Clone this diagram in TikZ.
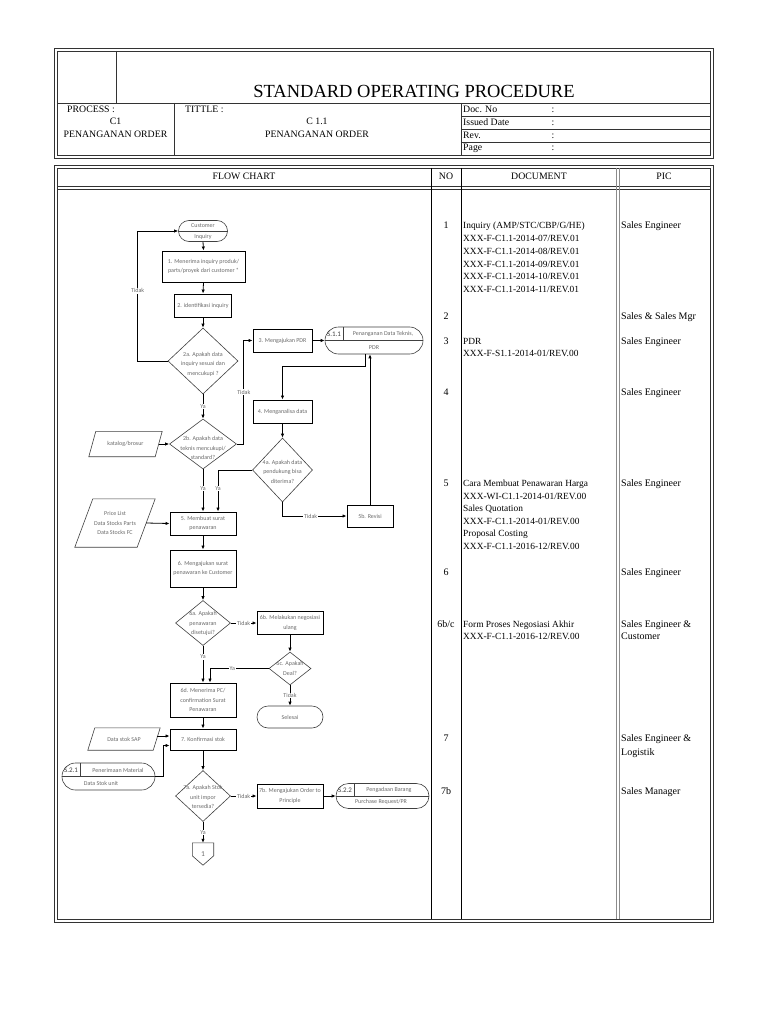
\documentclass[tikz,border=0pt]{standalone}
\usepackage{fontspec}
\setmainfont{Liberation Serif}
\newfontfamily\flowfont{Carlito}
\usetikzlibrary{shapes.geometric,arrows.meta,calc}
\definecolor{ftext}{gray}{0.42}
\definecolor{fline}{gray}{0.25}
\begin{document}
\begin{tikzpicture}[x=1pt,y=-1pt,
  frm/.style={draw=black!80,line width=0.8pt},
  hdtxt/.style={font=\fontsize{9.8}{11}\selectfont,inner sep=0pt},
  doctxt/.style={font=\fontsize{9.4}{11}\selectfont,inner sep=0pt,anchor=base west},
  pictxt/.style={font=\fontsize{10}{11}\selectfont,inner sep=0pt,anchor=base west},
  notxt/.style={font=\fontsize{10}{11}\selectfont,inner sep=0pt,anchor=base},
  proc/.style={draw,line width=0.9pt,font=\flowfont\fontsize{6}{9.5}\selectfont,text=ftext,align=center,inner sep=0pt},
  dec/.style={diamond,draw=fline,line width=0.6pt,inner sep=0pt},
  dtext/.style={font=\flowfont\fontsize{6}{9.5}\selectfont,text=ftext,align=center,inner sep=0pt},
  term/.style={draw=fline,line width=0.6pt,inner sep=0pt},
  ftxt/.style={font=\flowfont\fontsize{6}{7}\selectfont,text=ftext,inner sep=0pt},
  stxt/.style={font=\flowfont\fontsize{7}{8}\selectfont,text=black!75,inner sep=0pt},
  lab/.style={fill=white,font=\flowfont\fontsize{6}{7}\selectfont,text=ftext,inner sep=0.8pt},
  arr/.style={line width=0.8pt,-{Latex[length=4pt,width=3.4pt]}},
  para/.style={draw=fline,line width=0.6pt},
]
\useasboundingbox (0,0) rectangle (768,1024);
\fill[white] (0,0) rectangle (768,1024);

% ---------- header ----------
\draw[frm] (54,48) rectangle (713,158);
\draw[frm] (57,51) rectangle (710,155);
\draw[frm] (116,51) -- (116,103);
\draw[frm] (57,103) -- (710,103);
\draw[frm] (174,103) -- (174,155);
\draw[frm] (461,103) -- (461,155);
\foreach \yy in {116,129,142} \draw[frm] (461,\yy) -- (710,\yy);
\node[font=\fontsize{18.5}{20}\selectfont,inner sep=0pt,anchor=base] (title) at (414,98) {STANDARD OPERATING PROCEDURE};
\node[hdtxt,anchor=base west] (proc) at (67,113) {PROCESS :};
\node[hdtxt,anchor=base] (c1) at (115.5,124.5) {C1};
\node[hdtxt,anchor=base] (po1) at (115.5,137.5) {PENANGANAN ORDER};
\node[hdtxt,anchor=base west] (tit) at (185,113) {TITTLE :};
\node[hdtxt,anchor=base] (c11) at (317,124.5) {C 1.1};
\node[hdtxt,anchor=base] (po2) at (317,137.5) {PENANGANAN ORDER};
\node[hdtxt,anchor=base west] (dn) at (463,113) {Doc. No};
\node[hdtxt,anchor=base west] (idt) at (463,126) {Issued Date};
\node[hdtxt,anchor=base west] (rv) at (463,138.5) {Rev.};
\node[hdtxt,anchor=base west] (pg) at (463,151) {Page};
\node[hdtxt,anchor=base] (k1) at (553,113) {:};
\node[hdtxt,anchor=base] (k2) at (553,126) {:};
\node[hdtxt,anchor=base] (k3) at (553,138.5) {:};
\node[hdtxt,anchor=base] (k4) at (553,151) {:};

% ---------- body table ----------
\draw[frm] (54,165) rectangle (713,922);
\draw[frm] (57,168) rectangle (710,919);
\draw[frm] (57,186) -- (710,186);
\draw[frm] (57,189.5) -- (710,189.5);
\draw[frm,draw=black] (431,168) -- (431,919);
\draw[frm,draw=black] (461,168) -- (461,919);
\draw[frm,draw=black!45] (616.5,168) -- (616.5,919);
\draw[frm,draw=black!45] (619,168) -- (619,919);
\node[hdtxt,anchor=base] (hfc) at (244,179.5) {FLOW CHART};
\node[hdtxt,anchor=base] (hno) at (446,179.5) {NO};
\node[hdtxt,anchor=base] (hdoc) at (539,179.5) {DOCUMENT};
\node[hdtxt,anchor=base] (hpic) at (664,179.5) {PIC};

% NO column
\node[notxt] (n1) at (446,229) {1};
\node[notxt] (n2) at (446,319.5) {2};
\node[notxt] (n3) at (446,344) {3};
\node[notxt] (n4) at (446,395) {4};
\node[notxt] (n5) at (446,486.5) {5};
\node[notxt] (n6) at (446,575) {6};
\node[notxt] (n6b) at (446,627) {6b/c};
\node[notxt] (n7) at (446,741.5) {7};
\node[notxt] (n7b) at (446,794) {7b};

% DOCUMENT column
\node[doctxt] (d1a) at (463,229) {Inquiry (AMP/STC/CBP/G/HE)};
\node[doctxt] (d1b) at (463,241.7) {XXX-F-C1.1-2014-07/REV.01};
\node[doctxt] (d1c) at (463,254.4) {XXX-F-C1.1-2014-08/REV.01};
\node[doctxt] (d1d) at (463,267.1) {XXX-F-C1.1-2014-09/REV.01};
\node[doctxt] (d1e) at (463,279.8) {XXX-F-C1.1-2014-10/REV.01};
\node[doctxt] (d1f) at (463,292.5) {XXX-F-C1.1-2014-11/REV.01};
\node[doctxt] (d3a) at (463,344) {PDR};
\node[doctxt] (d3b) at (463,356.7) {XXX-F-S1.1-2014-01/REV.00};
\node[doctxt] (d5a) at (463,486.5) {Cara Membuat Penawaran Harga};
\node[doctxt] (d5b) at (463,499) {XXX-WI-C1.1-2014-01/REV.00};
\node[doctxt] (d5c) at (463,511.5) {Sales Quotation};
\node[doctxt] (d5d) at (463,524) {XXX-F-C1.1-2014-01/REV.00};
\node[doctxt] (d5e) at (463,536.5) {Proposal Costing};
\node[doctxt] (d5f) at (463,549) {XXX-F-C1.1-2016-12/REV.00};
\node[doctxt] (d6a) at (463,627) {Form Proses Negosiasi Akhir};
\node[doctxt] (d6b) at (463,639.5) {XXX-F-C1.1-2016-12/REV.00};

% PIC column
\node[pictxt] (p1) at (621,229) {Sales Engineer};
\node[pictxt] (p2) at (621,319.5) {Sales \& Sales Mgr};
\node[pictxt] (p3) at (621,344) {Sales Engineer};
\node[pictxt] (p4) at (621,395) {Sales Engineer};
\node[pictxt] (p5) at (621,486.5) {Sales Engineer};
\node[pictxt] (p6) at (621,575) {Sales Engineer};
\node[pictxt] (p6a) at (621,627) {Sales Engineer \&};
\node[pictxt] (p6b) at (621,639.5) {Customer};
\node[pictxt] (p7a) at (621,741.5) {Sales Engineer \&};
\node[pictxt] (p7b) at (621,755) {Logistik};
\node[pictxt] (p7c) at (621,794) {Sales Manager};

% ---------- flow chart ----------
\node[term,rounded corners=10.5pt,minimum width=49pt,minimum height=21pt] (ci) at (203,231) {};
\draw[fline,line width=0.6pt] (ci.west) -- (ci.east);
\node[ftxt] (cit1) at (203,226) {Customer};
\node[ftxt] (cit2) at (203,236.5) {Inquiry};

\node[proc,minimum width=83pt,minimum height=31pt] (b1) at (203.5,266.5) {1. Menerima inquiry produk/\\parts/proyek dari customer *};
\node[proc,minimum width=57pt,minimum height=23pt] (b2) at (203,305.5) {2. identifikasi inquiry};
\node[dec,minimum width=70pt,minimum height=66pt] (d2a) at (203,361) {};
\node[dtext] (t2a) at (203,364) {2a. Apakah data\\inquiry sesuai dan\\mencukupi ?};
\node[dec,minimum width=67pt,minimum height=50pt] (d2b) at (203,444) {};
\node[dtext] (t2b) at (203,448) {2b. Apakah data\\teknis mencukupi/\\standard?};

\node[inner sep=0pt,minimum width=66pt,minimum height=25pt,font=\flowfont\fontsize{6}{7}\selectfont,text=ftext] (kat) at (125.5,444) {katalog/brosur};
\draw[para] ([xshift=3.5pt]kat.north west) -- ([xshift=3.5pt]kat.north east) -- ([xshift=-3.5pt]kat.south east) -- ([xshift=-3.5pt]kat.south west) -- cycle;

\node[proc,minimum width=59pt,minimum height=23pt] (b3) at (282.5,340.5) {3. Mengajukan PDR};
\node[term,rounded corners=13.5pt,minimum width=98pt,minimum height=27pt] (s11) at (374,340.5) {};
\draw[fline,line width=0.6pt] (s11.west) -- (s11.east);
\draw[fline,line width=0.6pt] (343,327) -- (343,340.5);
\node[stxt] (s11a) at (334,334) {S.1.1};
\node[ftxt] (s11b) at (383,334) {Penanganan Data Teknis,};
\node[ftxt] (s11c) at (374,347.5) {PDR};

\node[proc,minimum width=59pt,minimum height=23pt] (b4) at (282.5,411.5) {4. Menganalisa data};
\node[dec,minimum width=60pt,minimum height=64pt] (d4a) at (282.5,470) {};
\node[dtext] (t4a) at (282.5,471.5) {4a. Apakah data\\pendukung bisa\\diterima?};
\node[proc,minimum width=46pt,minimum height=22pt] (b5b) at (370,516) {5b. Revisi};

\node[proc,minimum width=66pt,minimum height=23pt] (b5) at (203,523.5) {5. Membuat surat\\penawaran};
\node[inner sep=0pt,minimum width=62pt,minimum height=48pt,align=center,font=\flowfont\fontsize{6}{9.5}\selectfont,text=ftext] (pl) at (115,523) {Price List\\Data Stocks Parts\\Data Stocks FC};
\draw[para] ([xshift=9pt]pl.north west) -- ([xshift=9pt]pl.north east) -- ([xshift=-9pt]pl.south east) -- ([xshift=-9pt]pl.south west) -- cycle;

\node[proc,minimum width=66pt,minimum height=37pt] (b6) at (203,568.5) {6. Mengajukan surat\\penawaran ke Customer};
\node[dec,minimum width=55pt,minimum height=45pt] (d6a) at (203,623) {};
\node[dtext] (t6a) at (203,623.5) {6a. Apakah\\penawaran\\disetujui?};
\node[proc,minimum width=66pt,minimum height=23pt] (b6b) at (290,623) {6b. Melakukan negosiasi\\ulang};
\node[dec,minimum width=42pt,minimum height=33pt] (d6c) at (290,668.5) {};
\node[dtext] (t6c) at (290,668.5) {6c. Apakah\\Deal?};
\node[term,rounded corners=11pt,minimum width=66pt,minimum height=22pt,font=\flowfont\fontsize{6}{7}\selectfont,text=ftext] (sel) at (290,717) {Selesai};
\node[proc,minimum width=66pt,minimum height=34pt] (b6d) at (203,700) {6d. Menerima PC/\\confirmation Surat\\Penawaran};

\node[proc,minimum width=66pt,minimum height=21pt] (b7) at (203,739.5) {7. Konfirmasi stok};
\node[inner sep=0pt,minimum width=65pt,minimum height=22pt,font=\flowfont\fontsize{6}{7}\selectfont,text=ftext] (sap) at (124,739) {Data stok SAP};
\draw[para] ([xshift=3.5pt]sap.north west) -- ([xshift=3.5pt]sap.north east) -- ([xshift=-3.5pt]sap.south east) -- ([xshift=-3.5pt]sap.south west) -- cycle;

\node[term,rounded corners=13.5pt,minimum width=93pt,minimum height=27pt] (s21) at (108.5,776.5) {};
\draw[fline,line width=0.6pt] (s21.west) -- (s21.east);
\draw[fline,line width=0.6pt] (80,763) -- (80,776.5);
\node[stxt] (s21a) at (71,770) {S.2.1};
\node[ftxt] (s21b) at (118,770) {Penerimaan Material};
\node[ftxt] (s21c) at (101,783) {Data Stok unit};

\node[dec,minimum width=55pt,minimum height=51pt] (d7a) at (203,796) {};
\node[dtext] (t7a) at (203,797) {7a. Apakah Stok\\unit impor\\tersedia?};
\node[proc,minimum width=66pt,minimum height=24pt] (b7b) at (290,796) {7b. Mengajukan Order to\\Principle};
\node[term,rounded corners=12.5pt,minimum width=93pt,minimum height=25pt] (s22) at (382.5,796) {};
\draw[fline,line width=0.6pt] (s22.west) -- (s22.east);
\draw[fline,line width=0.6pt] (354,783.5) -- (354,796);
\node[stxt] (s22a) at (345,790) {S.2.2};
\node[ftxt] (s22b) at (389,790) {Pengadaan Barang};
\node[ftxt] (s22c) at (381,802) {Purchase Request/PR};

\node[inner sep=0pt,minimum width=21pt,minimum height=22pt,font=\flowfont\fontsize{7.5}{8}\selectfont,text=ftext] (off) at (203,854) {1};
\draw[para] (off.north west) -- (off.north east) -- ($(off.north east)+(0,13)$) -- (off.south) -- ($(off.north west)+(0,13)$) -- cycle;

% connectors
\draw[arr] (ci.south) -- (b1.north);
\draw[arr] (b1.south) -- (b2.north);
\draw[arr] (b2.south) -- (d2a.north);
\draw[arr] (d2a.west) -- ++(-30,0) |- node[lab,pos=0.27]{Tidak} (ci.west);
\draw[arr] (d2a.south) -- node[lab]{Ya} (d2b.north);
\draw[arr] (kat.east) -- (d2b.west);
\draw[arr] (d2b.east) -- ++(7,0) |- node[lab,pos=0.25]{Tidak} (b3.west);
\draw[arr] (b3.east) -- (s11.west);
\draw[arr] ([xshift=-9pt]s11.south) -- ++(0,12) -| (b4.north);
\draw[arr] (b4.south) -- (d4a.north);
\draw[arr] (d4a.south) |- node[lab,pos=0.72]{Tidak} (b5b.west);
\draw[arr] (b5b.north) -- (b5b.north |- s11.south);
\draw[arr] (d4a.west) -| node[lab,pos=0.72]{Ya} ([xshift=15pt]b5.north);
\draw[arr] (d2b.south) -- node[lab,pos=0.45]{Ya} (b5.north);
\draw[arr] (pl.east) -- (b5.west);
\draw[arr] (b5.south) -- (b6.north);
\draw[arr] (b6.south) -- (d6a.north);
\draw[arr] (d6a.east) -- node[lab]{Tidak} (b6b.west);
\draw[arr] (b6b.south) -- (d6c.north);
\draw[arr] (d6c.south) -- node[lab]{Tidak} (sel.north);
\draw[arr] (d6c.west) -| node[lab,pos=0.31]{Ya} ([xshift=7pt]b6d.north);
\draw[arr] (d6a.south) -- node[lab,pos=0.3]{Ya} (b6d.north);
\draw[arr] (b6d.south) -- (b7.north);
\draw[arr] ([yshift=3pt]sap.east) -- ([yshift=3pt]sap.east -| b7.west);
\draw[arr] (s21.east) -- ++(8,0) |- ([yshift=-6pt]b7.west);
\draw[arr] (b7.south) -- (d7a.north);
\draw[arr] (d7a.east) -- node[lab]{Tidak} (b7b.west);
\draw[arr] (b7b.east) -- (s22.west);
\draw[arr] (d7a.south) -- node[lab]{Ya} (off.north);
\end{tikzpicture}
\end{document}
